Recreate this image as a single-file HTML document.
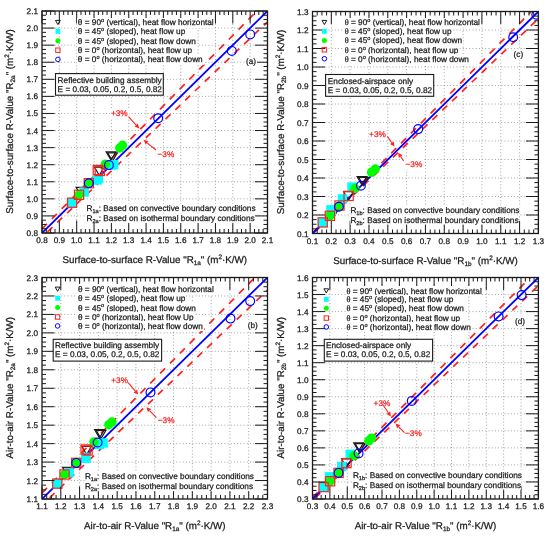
<!DOCTYPE html>
<html><head><meta charset="utf-8"><title>R-Value comparison</title>
<style>html,body{margin:0;padding:0;background:#fff;width:550px;height:539px;overflow:hidden}
svg{display:block;font-family:'Liberation Sans', Arial, sans-serif} text{stroke-width:0.25px} svg{text-rendering:geometricPrecision}</style></head>
<body><svg width="550" height="539" viewBox="0 0 550 539">
<defs><filter id="wbg" x="0" y="0" width="1" height="1" color-interpolation-filters="sRGB"><feFlood flood-color="#fff"/><feComposite in="SourceGraphic" operator="over"/></filter></defs>
<rect width="550" height="539" fill="#fff"/>
<path d="M59.35 11V233M42 215.92H267.5M76.69 11V233M42 198.85H267.5M94.04 11V233M42 181.77H267.5M111.38 11V233M42 164.69H267.5M128.73 11V233M42 147.62H267.5M146.08 11V233M42 130.54H267.5M163.42 11V233M42 113.46H267.5M180.77 11V233M42 96.38H267.5M198.12 11V233M42 79.31H267.5M215.46 11V233M42 62.23H267.5M232.81 11V233M42 45.15H267.5M250.15 11V233M42 28.08H267.5" stroke="#8c8c8c" stroke-width="0.8" stroke-dasharray="1 2.2" fill="none"/>
<g font-size="8.2" fill="#1a1a1a" stroke="#1a1a1a"><text x="42.00" y="243.40" text-anchor="middle">0.8</text><text x="38.00" y="236.00" text-anchor="end">0.8</text><text x="59.35" y="243.40" text-anchor="middle">0.9</text><text x="38.00" y="218.92" text-anchor="end">0.9</text><text x="76.69" y="243.40" text-anchor="middle">1.0</text><text x="38.00" y="201.85" text-anchor="end">1.0</text><text x="94.04" y="243.40" text-anchor="middle">1.1</text><text x="38.00" y="184.77" text-anchor="end">1.1</text><text x="111.38" y="243.40" text-anchor="middle">1.2</text><text x="38.00" y="167.69" text-anchor="end">1.2</text><text x="128.73" y="243.40" text-anchor="middle">1.3</text><text x="38.00" y="150.62" text-anchor="end">1.3</text><text x="146.08" y="243.40" text-anchor="middle">1.4</text><text x="38.00" y="133.54" text-anchor="end">1.4</text><text x="163.42" y="243.40" text-anchor="middle">1.5</text><text x="38.00" y="116.46" text-anchor="end">1.5</text><text x="180.77" y="243.40" text-anchor="middle">1.6</text><text x="38.00" y="99.38" text-anchor="end">1.6</text><text x="198.12" y="243.40" text-anchor="middle">1.7</text><text x="38.00" y="82.31" text-anchor="end">1.7</text><text x="215.46" y="243.40" text-anchor="middle">1.8</text><text x="38.00" y="65.23" text-anchor="end">1.8</text><text x="232.81" y="243.40" text-anchor="middle">1.9</text><text x="38.00" y="48.15" text-anchor="end">1.9</text><text x="250.15" y="243.40" text-anchor="middle">2.0</text><text x="38.00" y="31.08" text-anchor="end">2.0</text><text x="267.50" y="243.40" text-anchor="middle">2.1</text><text x="38.00" y="14.00" text-anchor="end">2.1</text></g>
<text x="154.75" y="263.10" text-anchor="middle" font-size="9.8" fill="#1a1a1a" stroke="#1a1a1a">Surface-to-surface R-Value "R<tspan font-size="6.4" dy="2.2">1a</tspan><tspan dy="-2.2">" (m</tspan><tspan font-size="6.4" dy="-4">2</tspan><tspan dy="4">·K/W)</tspan></text>
<text transform="translate(13.20 121.40) rotate(-90)" text-anchor="middle" font-size="9.8" fill="#1a1a1a" stroke="#1a1a1a">Surface-to-surface R-Value "R<tspan font-size="6.4" dy="2.2">2a</tspan><tspan dy="-2.2">" (m</tspan><tspan font-size="6.4" dy="-4">2</tspan><tspan dy="4">·K/W)</tspan></text>
<path d="M331.32 11.5V233.5M312.5 215.00H538.4M350.15 11.5V233.5M312.5 196.50H538.4M368.98 11.5V233.5M312.5 178.00H538.4M387.80 11.5V233.5M312.5 159.50H538.4M406.62 11.5V233.5M312.5 141.00H538.4M425.45 11.5V233.5M312.5 122.50H538.4M444.27 11.5V233.5M312.5 104.00H538.4M463.10 11.5V233.5M312.5 85.50H538.4M481.92 11.5V233.5M312.5 67.00H538.4M500.75 11.5V233.5M312.5 48.50H538.4M519.58 11.5V233.5M312.5 30.00H538.4" stroke="#8c8c8c" stroke-width="0.8" stroke-dasharray="1 2.2" fill="none"/>
<g font-size="8.2" fill="#1a1a1a" stroke="#1a1a1a"><text x="312.50" y="243.90" text-anchor="middle">0.1</text><text x="308.50" y="236.50" text-anchor="end">0.1</text><text x="331.32" y="243.90" text-anchor="middle">0.2</text><text x="308.50" y="218.00" text-anchor="end">0.2</text><text x="350.15" y="243.90" text-anchor="middle">0.3</text><text x="308.50" y="199.50" text-anchor="end">0.3</text><text x="368.98" y="243.90" text-anchor="middle">0.4</text><text x="308.50" y="181.00" text-anchor="end">0.4</text><text x="387.80" y="243.90" text-anchor="middle">0.5</text><text x="308.50" y="162.50" text-anchor="end">0.5</text><text x="406.62" y="243.90" text-anchor="middle">0.6</text><text x="308.50" y="144.00" text-anchor="end">0.6</text><text x="425.45" y="243.90" text-anchor="middle">0.7</text><text x="308.50" y="125.50" text-anchor="end">0.7</text><text x="444.27" y="243.90" text-anchor="middle">0.8</text><text x="308.50" y="107.00" text-anchor="end">0.8</text><text x="463.10" y="243.90" text-anchor="middle">0.9</text><text x="308.50" y="88.50" text-anchor="end">0.9</text><text x="481.92" y="243.90" text-anchor="middle">1.0</text><text x="308.50" y="70.00" text-anchor="end">1.0</text><text x="500.75" y="243.90" text-anchor="middle">1.1</text><text x="308.50" y="51.50" text-anchor="end">1.1</text><text x="519.58" y="243.90" text-anchor="middle">1.2</text><text x="308.50" y="33.00" text-anchor="end">1.2</text><text x="538.40" y="243.90" text-anchor="middle">1.3</text><text x="308.50" y="14.50" text-anchor="end">1.3</text></g>
<text x="425.45" y="263.60" text-anchor="middle" font-size="9.8" fill="#1a1a1a" stroke="#1a1a1a">Surface-to-surface R-Value "R<tspan font-size="6.4" dy="2.2">1b</tspan><tspan dy="-2.2">" (m</tspan><tspan font-size="6.4" dy="-4">2</tspan><tspan dy="4">·K/W)</tspan></text>
<text transform="translate(283.70 121.90) rotate(-90)" text-anchor="middle" font-size="9.8" fill="#1a1a1a" stroke="#1a1a1a">Surface-to-surface R-Value "R<tspan font-size="6.4" dy="2.2">2b</tspan><tspan dy="-2.2">" (m</tspan><tspan font-size="6.4" dy="-4">2</tspan><tspan dy="4">·K/W)</tspan></text>
<path d="M60.79 277.5V499M42 480.54H267.5M79.58 277.5V499M42 462.08H267.5M98.38 277.5V499M42 443.62H267.5M117.17 277.5V499M42 425.17H267.5M135.96 277.5V499M42 406.71H267.5M154.75 277.5V499M42 388.25H267.5M173.54 277.5V499M42 369.79H267.5M192.33 277.5V499M42 351.33H267.5M211.13 277.5V499M42 332.88H267.5M229.92 277.5V499M42 314.42H267.5M248.71 277.5V499M42 295.96H267.5" stroke="#8c8c8c" stroke-width="0.8" stroke-dasharray="1 2.2" fill="none"/>
<g font-size="8.2" fill="#1a1a1a" stroke="#1a1a1a"><text x="42.00" y="509.40" text-anchor="middle">1.1</text><text x="38.00" y="502.00" text-anchor="end">1.1</text><text x="60.79" y="509.40" text-anchor="middle">1.2</text><text x="38.00" y="483.54" text-anchor="end">1.2</text><text x="79.58" y="509.40" text-anchor="middle">1.3</text><text x="38.00" y="465.08" text-anchor="end">1.3</text><text x="98.38" y="509.40" text-anchor="middle">1.4</text><text x="38.00" y="446.62" text-anchor="end">1.4</text><text x="117.17" y="509.40" text-anchor="middle">1.5</text><text x="38.00" y="428.17" text-anchor="end">1.5</text><text x="135.96" y="509.40" text-anchor="middle">1.6</text><text x="38.00" y="409.71" text-anchor="end">1.6</text><text x="154.75" y="509.40" text-anchor="middle">1.7</text><text x="38.00" y="391.25" text-anchor="end">1.7</text><text x="173.54" y="509.40" text-anchor="middle">1.8</text><text x="38.00" y="372.79" text-anchor="end">1.8</text><text x="192.33" y="509.40" text-anchor="middle">1.9</text><text x="38.00" y="354.33" text-anchor="end">1.9</text><text x="211.13" y="509.40" text-anchor="middle">2.0</text><text x="38.00" y="335.88" text-anchor="end">2.0</text><text x="229.92" y="509.40" text-anchor="middle">2.1</text><text x="38.00" y="317.42" text-anchor="end">2.1</text><text x="248.71" y="509.40" text-anchor="middle">2.2</text><text x="38.00" y="298.96" text-anchor="end">2.2</text><text x="267.50" y="509.40" text-anchor="middle">2.3</text><text x="38.00" y="280.50" text-anchor="end">2.3</text></g>
<text x="154.75" y="529.10" text-anchor="middle" font-size="9.8" fill="#1a1a1a" stroke="#1a1a1a">Air-to-air R-Value "R<tspan font-size="6.4" dy="2.2">1a</tspan><tspan dy="-2.2">" (m</tspan><tspan font-size="6.4" dy="-4">2</tspan><tspan dy="4">·K/W)</tspan></text>
<text transform="translate(13.20 387.65) rotate(-90)" text-anchor="middle" font-size="9.8" fill="#1a1a1a" stroke="#1a1a1a">Air-to-air R-Value "R<tspan font-size="6.4" dy="2.2">2a</tspan><tspan dy="-2.2">" (m</tspan><tspan font-size="6.4" dy="-4">2</tspan><tspan dy="4">·K/W)</tspan></text>
<path d="M329.88 277.5V499M312.5 481.96H538.4M347.25 277.5V499M312.5 464.92H538.4M364.63 277.5V499M312.5 447.88H538.4M382.01 277.5V499M312.5 430.85H538.4M399.38 277.5V499M312.5 413.81H538.4M416.76 277.5V499M312.5 396.77H538.4M434.14 277.5V499M312.5 379.73H538.4M451.52 277.5V499M312.5 362.69H538.4M468.89 277.5V499M312.5 345.65H538.4M486.27 277.5V499M312.5 328.62H538.4M503.65 277.5V499M312.5 311.58H538.4M521.02 277.5V499M312.5 294.54H538.4" stroke="#8c8c8c" stroke-width="0.8" stroke-dasharray="1 2.2" fill="none"/>
<g font-size="8.2" fill="#1a1a1a" stroke="#1a1a1a"><text x="312.50" y="509.40" text-anchor="middle">0.3</text><text x="308.50" y="502.00" text-anchor="end">0.3</text><text x="329.88" y="509.40" text-anchor="middle">0.4</text><text x="308.50" y="484.96" text-anchor="end">0.4</text><text x="347.25" y="509.40" text-anchor="middle">0.5</text><text x="308.50" y="467.92" text-anchor="end">0.5</text><text x="364.63" y="509.40" text-anchor="middle">0.6</text><text x="308.50" y="450.88" text-anchor="end">0.6</text><text x="382.01" y="509.40" text-anchor="middle">0.7</text><text x="308.50" y="433.85" text-anchor="end">0.7</text><text x="399.38" y="509.40" text-anchor="middle">0.8</text><text x="308.50" y="416.81" text-anchor="end">0.8</text><text x="416.76" y="509.40" text-anchor="middle">0.9</text><text x="308.50" y="399.77" text-anchor="end">0.9</text><text x="434.14" y="509.40" text-anchor="middle">1.0</text><text x="308.50" y="382.73" text-anchor="end">1.0</text><text x="451.52" y="509.40" text-anchor="middle">1.1</text><text x="308.50" y="365.69" text-anchor="end">1.1</text><text x="468.89" y="509.40" text-anchor="middle">1.2</text><text x="308.50" y="348.65" text-anchor="end">1.2</text><text x="486.27" y="509.40" text-anchor="middle">1.3</text><text x="308.50" y="331.62" text-anchor="end">1.3</text><text x="503.65" y="509.40" text-anchor="middle">1.4</text><text x="308.50" y="314.58" text-anchor="end">1.4</text><text x="521.02" y="509.40" text-anchor="middle">1.5</text><text x="308.50" y="297.54" text-anchor="end">1.5</text><text x="538.40" y="509.40" text-anchor="middle">1.6</text><text x="308.50" y="280.50" text-anchor="end">1.6</text></g>
<text x="425.45" y="529.10" text-anchor="middle" font-size="9.8" fill="#1a1a1a" stroke="#1a1a1a">Air-to-air R-Value "R<tspan font-size="6.4" dy="2.2">1b</tspan><tspan dy="-2.2">" (m</tspan><tspan font-size="6.4" dy="-4">2</tspan><tspan dy="4">·K/W)</tspan></text>
<text transform="translate(283.70 387.65) rotate(-90)" text-anchor="middle" font-size="9.8" fill="#1a1a1a" stroke="#1a1a1a">Air-to-air R-Value "R<tspan font-size="6.4" dy="2.2">2b</tspan><tspan dy="-2.2">" (m</tspan><tspan font-size="6.4" dy="-4">2</tspan><tspan dy="4">·K/W)</tspan></text>
<clipPath id="clipa"><rect x="42" y="11" width="225.50" height="222.00"/></clipPath>
<g clip-path="url(#clipa)">
<line x1="42.00" y1="228.90" x2="256.89" y2="11.00" stroke="#ff2020" stroke-width="1.7" stroke-dasharray="7.2 6.8" stroke-dashoffset="0"/>
<line x1="46.29" y1="233.00" x2="267.50" y2="21.76" stroke="#ff2020" stroke-width="1.7" stroke-dasharray="6.9 6.7" stroke-dashoffset="-1.6"/>
<line x1="42.00" y1="233.00" x2="267.50" y2="11.00" stroke="#0000ff" stroke-width="1.8"/>
</g>
<clipPath id="clipc"><rect x="312.5" y="11.5" width="225.90" height="222.00"/></clipPath>
<g clip-path="url(#clipc)">
<line x1="312.50" y1="232.94" x2="531.27" y2="11.50" stroke="#ff2020" stroke-width="1.7" stroke-dasharray="7.2 6.8" stroke-dashoffset="0"/>
<line x1="313.08" y1="233.50" x2="538.40" y2="18.72" stroke="#ff2020" stroke-width="1.7" stroke-dasharray="6.9 6.7" stroke-dashoffset="-1.6"/>
<line x1="312.50" y1="233.50" x2="538.40" y2="11.50" stroke="#0000ff" stroke-width="1.8"/>
</g>
<clipPath id="clipb"><rect x="42" y="277.5" width="225.50" height="221.50"/></clipPath>
<g clip-path="url(#clipb)">
<line x1="42.00" y1="492.91" x2="254.91" y2="277.50" stroke="#ff2020" stroke-width="1.7" stroke-dasharray="7.2 6.8" stroke-dashoffset="0"/>
<line x1="48.39" y1="499.00" x2="267.50" y2="290.24" stroke="#ff2020" stroke-width="1.7" stroke-dasharray="6.9 6.7" stroke-dashoffset="-1.6"/>
<line x1="42.00" y1="499.00" x2="267.50" y2="277.50" stroke="#0000ff" stroke-width="1.8"/>
</g>
<clipPath id="clipd"><rect x="312.5" y="277.5" width="225.90" height="221.50"/></clipPath>
<g clip-path="url(#clipd)">
<line x1="312.50" y1="497.47" x2="530.30" y2="277.50" stroke="#ff2020" stroke-width="1.7" stroke-dasharray="7.2 6.8" stroke-dashoffset="0"/>
<line x1="314.11" y1="499.00" x2="538.40" y2="285.68" stroke="#ff2020" stroke-width="1.7" stroke-dasharray="6.9 6.7" stroke-dashoffset="-1.6"/>
<line x1="312.50" y1="499.00" x2="538.40" y2="277.50" stroke="#0000ff" stroke-width="1.8"/>
</g>
<g clip-path="url(#clipa)">
<path d="M76.10 187.34H85.90L81.00 195.66Z" fill="none" stroke="#1a1a1a" stroke-width="1.2"/>
<path d="M94.40 167.03H104.20L99.30 175.36Z" fill="none" stroke="#1a1a1a" stroke-width="1.2"/>
<path d="M106.10 151.84H115.90L111.00 160.16Z" fill="none" stroke="#1a1a1a" stroke-width="1.2"/>
<path d="M107.60 152.84H117.40L112.50 161.16Z" fill="none" stroke="#1a1a1a" stroke-width="1.2"/>
<rect x="67.40" y="198.00" width="9.4" height="9.4" fill="#00ffff"/>
<rect x="79.40" y="187.30" width="9.4" height="9.4" fill="#00ffff"/>
<rect x="92.40" y="175.30" width="9.4" height="9.4" fill="#00ffff"/>
<rect x="93.60" y="173.90" width="9.4" height="9.4" fill="#00ffff"/>
<rect x="109.00" y="160.00" width="9.4" height="9.4" fill="#00ffff"/>
<rect x="106.30" y="160.30" width="9.4" height="9.4" fill="#00ffff"/>
<circle cx="79.00" cy="194.80" r="4.7" fill="#00ff00"/>
<circle cx="88.80" cy="183.20" r="4.7" fill="#00ff00"/>
<circle cx="105.30" cy="164.20" r="4.7" fill="#00ff00"/>
<circle cx="119.70" cy="148.00" r="4.7" fill="#00ff00"/>
<circle cx="122.50" cy="145.20" r="4.7" fill="#00ff00"/>
<rect x="67.50" y="198.10" width="9.2" height="9.2" fill="none" stroke="#ff2020" stroke-width="1.2"/>
<rect x="74.40" y="190.20" width="9.2" height="9.2" fill="none" stroke="#ff2020" stroke-width="1.2"/>
<rect x="84.20" y="178.60" width="9.2" height="9.2" fill="none" stroke="#ff2020" stroke-width="1.2"/>
<rect x="93.20" y="165.40" width="9.2" height="9.2" fill="none" stroke="#ff2020" stroke-width="1.2"/>
<rect x="95.20" y="166.40" width="9.2" height="9.2" fill="none" stroke="#ff2020" stroke-width="1.2"/>
<circle cx="88.80" cy="183.20" r="4.4" fill="none" stroke="#0000ff" stroke-width="1.2"/>
<circle cx="109.00" cy="165.10" r="4.4" fill="none" stroke="#0000ff" stroke-width="1.2"/>
<circle cx="158.20" cy="118.20" r="4.4" fill="none" stroke="#0000ff" stroke-width="1.2"/>
<circle cx="231.80" cy="50.90" r="4.4" fill="none" stroke="#0000ff" stroke-width="1.2"/>
<circle cx="250.20" cy="34.40" r="4.4" fill="none" stroke="#0000ff" stroke-width="1.2"/>
</g>
<g clip-path="url(#clipb)">
<path d="M62.50 467.33H72.30L67.40 475.67Z" fill="none" stroke="#1a1a1a" stroke-width="1.2"/>
<path d="M81.70 446.33H91.50L86.60 454.67Z" fill="none" stroke="#1a1a1a" stroke-width="1.2"/>
<path d="M94.60 429.63H104.40L99.50 437.97Z" fill="none" stroke="#1a1a1a" stroke-width="1.2"/>
<path d="M96.10 430.33H105.90L101.00 438.67Z" fill="none" stroke="#1a1a1a" stroke-width="1.2"/>
<rect x="52.60" y="478.90" width="9.4" height="9.4" fill="#00ffff"/>
<rect x="64.30" y="467.90" width="9.4" height="9.4" fill="#00ffff"/>
<rect x="81.20" y="453.60" width="9.4" height="9.4" fill="#00ffff"/>
<rect x="80.90" y="452.60" width="9.4" height="9.4" fill="#00ffff"/>
<rect x="98.50" y="438.30" width="9.4" height="9.4" fill="#00ffff"/>
<rect x="94.80" y="439.80" width="9.4" height="9.4" fill="#00ffff"/>
<circle cx="64.50" cy="474.50" r="4.7" fill="#00ff00"/>
<circle cx="76.20" cy="462.90" r="4.7" fill="#00ff00"/>
<circle cx="93.90" cy="442.00" r="4.7" fill="#00ff00"/>
<circle cx="108.80" cy="424.80" r="4.7" fill="#00ff00"/>
<circle cx="112.00" cy="422.00" r="4.7" fill="#00ff00"/>
<rect x="52.70" y="479.00" width="9.2" height="9.2" fill="none" stroke="#ff2020" stroke-width="1.2"/>
<rect x="59.90" y="469.90" width="9.2" height="9.2" fill="none" stroke="#ff2020" stroke-width="1.2"/>
<rect x="71.60" y="458.30" width="9.2" height="9.2" fill="none" stroke="#ff2020" stroke-width="1.2"/>
<rect x="81.00" y="444.90" width="9.2" height="9.2" fill="none" stroke="#ff2020" stroke-width="1.2"/>
<rect x="83.00" y="445.90" width="9.2" height="9.2" fill="none" stroke="#ff2020" stroke-width="1.2"/>
<circle cx="76.20" cy="462.90" r="4.4" fill="none" stroke="#0000ff" stroke-width="1.2"/>
<circle cx="97.60" cy="442.50" r="4.4" fill="none" stroke="#0000ff" stroke-width="1.2"/>
<circle cx="150.50" cy="392.40" r="4.4" fill="none" stroke="#0000ff" stroke-width="1.2"/>
<circle cx="230.50" cy="318.60" r="4.4" fill="none" stroke="#0000ff" stroke-width="1.2"/>
<circle cx="250.20" cy="301.10" r="4.4" fill="none" stroke="#0000ff" stroke-width="1.2"/>
</g>
<g clip-path="url(#clipc)">
<path d="M330.10 206.84H339.90L335.00 215.16Z" fill="none" stroke="#1a1a1a" stroke-width="1.2"/>
<path d="M343.70 191.74H353.50L348.60 200.06Z" fill="none" stroke="#1a1a1a" stroke-width="1.2"/>
<path d="M357.10 176.64H366.90L362.00 184.97Z" fill="none" stroke="#1a1a1a" stroke-width="1.2"/>
<path d="M358.60 177.34H368.40L363.50 185.66Z" fill="none" stroke="#1a1a1a" stroke-width="1.2"/>
<rect x="326.80" y="206.00" width="9.4" height="9.4" fill="#00ffff"/>
<rect x="318.00" y="217.70" width="9.4" height="9.4" fill="#00ffff"/>
<rect x="326.30" y="205.10" width="9.4" height="9.4" fill="#00ffff"/>
<rect x="337.80" y="194.20" width="9.4" height="9.4" fill="#00ffff"/>
<rect x="347.30" y="182.30" width="9.4" height="9.4" fill="#00ffff"/>
<circle cx="329.90" cy="215.80" r="4.7" fill="#00ff00"/>
<circle cx="338.90" cy="206.70" r="4.7" fill="#00ff00"/>
<circle cx="354.80" cy="188.50" r="4.7" fill="#00ff00"/>
<circle cx="371.50" cy="172.30" r="4.7" fill="#00ff00"/>
<circle cx="375.30" cy="169.00" r="4.7" fill="#00ff00"/>
<rect x="318.10" y="217.80" width="9.2" height="9.2" fill="none" stroke="#ff2020" stroke-width="1.2"/>
<rect x="325.30" y="211.20" width="9.2" height="9.2" fill="none" stroke="#ff2020" stroke-width="1.2"/>
<rect x="334.90" y="200.90" width="9.2" height="9.2" fill="none" stroke="#ff2020" stroke-width="1.2"/>
<rect x="344.00" y="191.30" width="9.2" height="9.2" fill="none" stroke="#ff2020" stroke-width="1.2"/>
<circle cx="338.90" cy="206.70" r="4.4" fill="none" stroke="#0000ff" stroke-width="1.2"/>
<circle cx="360.90" cy="185.70" r="4.4" fill="none" stroke="#0000ff" stroke-width="1.2"/>
<circle cx="418.20" cy="129.10" r="4.4" fill="none" stroke="#0000ff" stroke-width="1.2"/>
<circle cx="513.20" cy="37.30" r="4.4" fill="none" stroke="#0000ff" stroke-width="1.2"/>
<circle cx="536.30" cy="14.70" r="4.4" fill="none" stroke="#0000ff" stroke-width="1.2"/>
</g>
<g clip-path="url(#clipd)">
<path d="M341.60 458.94H351.40L346.50 467.27Z" fill="none" stroke="#1a1a1a" stroke-width="1.2"/>
<path d="M353.70 442.73H363.50L358.60 451.06Z" fill="none" stroke="#1a1a1a" stroke-width="1.2"/>
<path d="M355.10 443.63H364.90L360.00 451.97Z" fill="none" stroke="#1a1a1a" stroke-width="1.2"/>
<rect x="318.90" y="482.40" width="9.4" height="9.4" fill="#00ffff"/>
<rect x="324.80" y="472.10" width="9.4" height="9.4" fill="#00ffff"/>
<rect x="337.10" y="461.70" width="9.4" height="9.4" fill="#00ffff"/>
<rect x="345.50" y="449.60" width="9.4" height="9.4" fill="#00ffff"/>
<circle cx="330.10" cy="481.30" r="4.7" fill="#00ff00"/>
<circle cx="338.60" cy="472.90" r="4.7" fill="#00ff00"/>
<circle cx="353.90" cy="455.70" r="4.7" fill="#00ff00"/>
<circle cx="368.80" cy="440.90" r="4.7" fill="#00ff00"/>
<circle cx="371.50" cy="438.10" r="4.7" fill="#00ff00"/>
<rect x="319.00" y="482.50" width="9.2" height="9.2" fill="none" stroke="#ff2020" stroke-width="1.2"/>
<rect x="325.50" y="476.70" width="9.2" height="9.2" fill="none" stroke="#ff2020" stroke-width="1.2"/>
<rect x="334.00" y="468.30" width="9.2" height="9.2" fill="none" stroke="#ff2020" stroke-width="1.2"/>
<rect x="341.90" y="458.50" width="9.2" height="9.2" fill="none" stroke="#ff2020" stroke-width="1.2"/>
<circle cx="338.60" cy="472.90" r="4.4" fill="none" stroke="#0000ff" stroke-width="1.2"/>
<circle cx="358.60" cy="453.40" r="4.4" fill="none" stroke="#0000ff" stroke-width="1.2"/>
<circle cx="411.80" cy="400.90" r="4.4" fill="none" stroke="#0000ff" stroke-width="1.2"/>
<circle cx="498.60" cy="316.40" r="4.4" fill="none" stroke="#0000ff" stroke-width="1.2"/>
<circle cx="521.60" cy="295.10" r="4.4" fill="none" stroke="#0000ff" stroke-width="1.2"/>
</g>
<path d="M42.00 233v-12.5M42.00 11v12.5M42 233.00h12.5M267.5 233.00h-12.5M46.34 233v-4M46.34 11v4M42 228.73h4M267.5 228.73h-4M50.67 233v-4M50.67 11v4M42 224.46h4M267.5 224.46h-4M55.01 233v-4M55.01 11v4M42 220.19h4M267.5 220.19h-4M59.35 233v-12.5M59.35 11v12.5M42 215.92h12.5M267.5 215.92h-12.5M63.68 233v-4M63.68 11v4M42 211.65h4M267.5 211.65h-4M68.02 233v-4M68.02 11v4M42 207.38h4M267.5 207.38h-4M72.36 233v-4M72.36 11v4M42 203.12h4M267.5 203.12h-4M76.69 233v-12.5M76.69 11v12.5M42 198.85h12.5M267.5 198.85h-12.5M81.03 233v-4M81.03 11v4M42 194.58h4M267.5 194.58h-4M85.37 233v-4M85.37 11v4M42 190.31h4M267.5 190.31h-4M89.70 233v-4M89.70 11v4M42 186.04h4M267.5 186.04h-4M94.04 233v-12.5M94.04 11v12.5M42 181.77h12.5M267.5 181.77h-12.5M98.37 233v-4M98.37 11v4M42 177.50h4M267.5 177.50h-4M102.71 233v-4M102.71 11v4M42 173.23h4M267.5 173.23h-4M107.05 233v-4M107.05 11v4M42 168.96h4M267.5 168.96h-4M111.38 233v-12.5M111.38 11v12.5M42 164.69h12.5M267.5 164.69h-12.5M115.72 233v-4M115.72 11v4M42 160.42h4M267.5 160.42h-4M120.06 233v-4M120.06 11v4M42 156.15h4M267.5 156.15h-4M124.39 233v-4M124.39 11v4M42 151.88h4M267.5 151.88h-4M128.73 233v-12.5M128.73 11v12.5M42 147.62h12.5M267.5 147.62h-12.5M133.07 233v-4M133.07 11v4M42 143.35h4M267.5 143.35h-4M137.40 233v-4M137.40 11v4M42 139.08h4M267.5 139.08h-4M141.74 233v-4M141.74 11v4M42 134.81h4M267.5 134.81h-4M146.08 233v-12.5M146.08 11v12.5M42 130.54h12.5M267.5 130.54h-12.5M150.41 233v-4M150.41 11v4M42 126.27h4M267.5 126.27h-4M154.75 233v-4M154.75 11v4M42 122.00h4M267.5 122.00h-4M159.09 233v-4M159.09 11v4M42 117.73h4M267.5 117.73h-4M163.42 233v-12.5M163.42 11v12.5M42 113.46h12.5M267.5 113.46h-12.5M167.76 233v-4M167.76 11v4M42 109.19h4M267.5 109.19h-4M172.10 233v-4M172.10 11v4M42 104.92h4M267.5 104.92h-4M176.43 233v-4M176.43 11v4M42 100.65h4M267.5 100.65h-4M180.77 233v-12.5M180.77 11v12.5M42 96.38h12.5M267.5 96.38h-12.5M185.11 233v-4M185.11 11v4M42 92.12h4M267.5 92.12h-4M189.44 233v-4M189.44 11v4M42 87.85h4M267.5 87.85h-4M193.78 233v-4M193.78 11v4M42 83.58h4M267.5 83.58h-4M198.12 233v-12.5M198.12 11v12.5M42 79.31h12.5M267.5 79.31h-12.5M202.45 233v-4M202.45 11v4M42 75.04h4M267.5 75.04h-4M206.79 233v-4M206.79 11v4M42 70.77h4M267.5 70.77h-4M211.12 233v-4M211.12 11v4M42 66.50h4M267.5 66.50h-4M215.46 233v-12.5M215.46 11v12.5M42 62.23h12.5M267.5 62.23h-12.5M219.80 233v-4M219.80 11v4M42 57.96h4M267.5 57.96h-4M224.13 233v-4M224.13 11v4M42 53.69h4M267.5 53.69h-4M228.47 233v-4M228.47 11v4M42 49.42h4M267.5 49.42h-4M232.81 233v-12.5M232.81 11v12.5M42 45.15h12.5M267.5 45.15h-12.5M237.14 233v-4M237.14 11v4M42 40.88h4M267.5 40.88h-4M241.48 233v-4M241.48 11v4M42 36.62h4M267.5 36.62h-4M245.82 233v-4M245.82 11v4M42 32.35h4M267.5 32.35h-4M250.15 233v-12.5M250.15 11v12.5M42 28.08h12.5M267.5 28.08h-12.5M254.49 233v-4M254.49 11v4M42 23.81h4M267.5 23.81h-4M258.83 233v-4M258.83 11v4M42 19.54h4M267.5 19.54h-4M263.16 233v-4M263.16 11v4M42 15.27h4M267.5 15.27h-4M267.50 233v-12.5M267.50 11v12.5M42 11.00h12.5M267.5 11.00h-12.5" stroke="#1a1a1a" stroke-width="1" fill="none"/>
<rect x="42" y="11" width="225.50" height="222.00" fill="none" stroke="#1a1a1a" stroke-width="1.3"/>
<path d="M312.50 233.5v-12.5M312.50 11.5v12.5M312.5 233.50h12.5M538.4 233.50h-12.5M317.21 233.5v-4M317.21 11.5v4M312.5 228.88h4M538.4 228.88h-4M321.91 233.5v-4M321.91 11.5v4M312.5 224.25h4M538.4 224.25h-4M326.62 233.5v-4M326.62 11.5v4M312.5 219.62h4M538.4 219.62h-4M331.32 233.5v-12.5M331.32 11.5v12.5M312.5 215.00h12.5M538.4 215.00h-12.5M336.03 233.5v-4M336.03 11.5v4M312.5 210.38h4M538.4 210.38h-4M340.74 233.5v-4M340.74 11.5v4M312.5 205.75h4M538.4 205.75h-4M345.44 233.5v-4M345.44 11.5v4M312.5 201.12h4M538.4 201.12h-4M350.15 233.5v-12.5M350.15 11.5v12.5M312.5 196.50h12.5M538.4 196.50h-12.5M354.86 233.5v-4M354.86 11.5v4M312.5 191.88h4M538.4 191.88h-4M359.56 233.5v-4M359.56 11.5v4M312.5 187.25h4M538.4 187.25h-4M364.27 233.5v-4M364.27 11.5v4M312.5 182.62h4M538.4 182.62h-4M368.98 233.5v-12.5M368.98 11.5v12.5M312.5 178.00h12.5M538.4 178.00h-12.5M373.68 233.5v-4M373.68 11.5v4M312.5 173.37h4M538.4 173.37h-4M378.39 233.5v-4M378.39 11.5v4M312.5 168.75h4M538.4 168.75h-4M383.09 233.5v-4M383.09 11.5v4M312.5 164.12h4M538.4 164.12h-4M387.80 233.5v-12.5M387.80 11.5v12.5M312.5 159.50h12.5M538.4 159.50h-12.5M392.51 233.5v-4M392.51 11.5v4M312.5 154.88h4M538.4 154.88h-4M397.21 233.5v-4M397.21 11.5v4M312.5 150.25h4M538.4 150.25h-4M401.92 233.5v-4M401.92 11.5v4M312.5 145.62h4M538.4 145.62h-4M406.62 233.5v-12.5M406.62 11.5v12.5M312.5 141.00h12.5M538.4 141.00h-12.5M411.33 233.5v-4M411.33 11.5v4M312.5 136.38h4M538.4 136.38h-4M416.04 233.5v-4M416.04 11.5v4M312.5 131.75h4M538.4 131.75h-4M420.74 233.5v-4M420.74 11.5v4M312.5 127.12h4M538.4 127.12h-4M425.45 233.5v-12.5M425.45 11.5v12.5M312.5 122.50h12.5M538.4 122.50h-12.5M430.16 233.5v-4M430.16 11.5v4M312.5 117.87h4M538.4 117.87h-4M434.86 233.5v-4M434.86 11.5v4M312.5 113.25h4M538.4 113.25h-4M439.57 233.5v-4M439.57 11.5v4M312.5 108.62h4M538.4 108.62h-4M444.27 233.5v-12.5M444.27 11.5v12.5M312.5 104.00h12.5M538.4 104.00h-12.5M448.98 233.5v-4M448.98 11.5v4M312.5 99.37h4M538.4 99.37h-4M453.69 233.5v-4M453.69 11.5v4M312.5 94.75h4M538.4 94.75h-4M458.39 233.5v-4M458.39 11.5v4M312.5 90.12h4M538.4 90.12h-4M463.10 233.5v-12.5M463.10 11.5v12.5M312.5 85.50h12.5M538.4 85.50h-12.5M467.81 233.5v-4M467.81 11.5v4M312.5 80.87h4M538.4 80.87h-4M472.51 233.5v-4M472.51 11.5v4M312.5 76.25h4M538.4 76.25h-4M477.22 233.5v-4M477.22 11.5v4M312.5 71.62h4M538.4 71.62h-4M481.92 233.5v-12.5M481.92 11.5v12.5M312.5 67.00h12.5M538.4 67.00h-12.5M486.63 233.5v-4M486.63 11.5v4M312.5 62.37h4M538.4 62.37h-4M491.34 233.5v-4M491.34 11.5v4M312.5 57.75h4M538.4 57.75h-4M496.04 233.5v-4M496.04 11.5v4M312.5 53.12h4M538.4 53.12h-4M500.75 233.5v-12.5M500.75 11.5v12.5M312.5 48.50h12.5M538.4 48.50h-12.5M505.46 233.5v-4M505.46 11.5v4M312.5 43.87h4M538.4 43.87h-4M510.16 233.5v-4M510.16 11.5v4M312.5 39.25h4M538.4 39.25h-4M514.87 233.5v-4M514.87 11.5v4M312.5 34.62h4M538.4 34.62h-4M519.58 233.5v-12.5M519.58 11.5v12.5M312.5 30.00h12.5M538.4 30.00h-12.5M524.28 233.5v-4M524.28 11.5v4M312.5 25.38h4M538.4 25.38h-4M528.99 233.5v-4M528.99 11.5v4M312.5 20.75h4M538.4 20.75h-4M533.69 233.5v-4M533.69 11.5v4M312.5 16.12h4M538.4 16.12h-4M538.40 233.5v-12.5M538.40 11.5v12.5M312.5 11.50h12.5M538.4 11.50h-12.5" stroke="#1a1a1a" stroke-width="1" fill="none"/>
<rect x="312.5" y="11.5" width="225.90" height="222.00" fill="none" stroke="#1a1a1a" stroke-width="1.3"/>
<path d="M42.00 499v-12.5M42.00 277.5v12.5M42 499.00h12.5M267.5 499.00h-12.5M46.70 499v-4M46.70 277.5v4M42 494.39h4M267.5 494.39h-4M51.40 499v-4M51.40 277.5v4M42 489.77h4M267.5 489.77h-4M56.09 499v-4M56.09 277.5v4M42 485.16h4M267.5 485.16h-4M60.79 499v-12.5M60.79 277.5v12.5M42 480.54h12.5M267.5 480.54h-12.5M65.49 499v-4M65.49 277.5v4M42 475.93h4M267.5 475.93h-4M70.19 499v-4M70.19 277.5v4M42 471.31h4M267.5 471.31h-4M74.89 499v-4M74.89 277.5v4M42 466.70h4M267.5 466.70h-4M79.58 499v-12.5M79.58 277.5v12.5M42 462.08h12.5M267.5 462.08h-12.5M84.28 499v-4M84.28 277.5v4M42 457.47h4M267.5 457.47h-4M88.98 499v-4M88.98 277.5v4M42 452.85h4M267.5 452.85h-4M93.68 499v-4M93.68 277.5v4M42 448.24h4M267.5 448.24h-4M98.38 499v-12.5M98.38 277.5v12.5M42 443.62h12.5M267.5 443.62h-12.5M103.07 499v-4M103.07 277.5v4M42 439.01h4M267.5 439.01h-4M107.77 499v-4M107.77 277.5v4M42 434.40h4M267.5 434.40h-4M112.47 499v-4M112.47 277.5v4M42 429.78h4M267.5 429.78h-4M117.17 499v-12.5M117.17 277.5v12.5M42 425.17h12.5M267.5 425.17h-12.5M121.86 499v-4M121.86 277.5v4M42 420.55h4M267.5 420.55h-4M126.56 499v-4M126.56 277.5v4M42 415.94h4M267.5 415.94h-4M131.26 499v-4M131.26 277.5v4M42 411.32h4M267.5 411.32h-4M135.96 499v-12.5M135.96 277.5v12.5M42 406.71h12.5M267.5 406.71h-12.5M140.66 499v-4M140.66 277.5v4M42 402.09h4M267.5 402.09h-4M145.35 499v-4M145.35 277.5v4M42 397.48h4M267.5 397.48h-4M150.05 499v-4M150.05 277.5v4M42 392.86h4M267.5 392.86h-4M154.75 499v-12.5M154.75 277.5v12.5M42 388.25h12.5M267.5 388.25h-12.5M159.45 499v-4M159.45 277.5v4M42 383.64h4M267.5 383.64h-4M164.15 499v-4M164.15 277.5v4M42 379.02h4M267.5 379.02h-4M168.84 499v-4M168.84 277.5v4M42 374.41h4M267.5 374.41h-4M173.54 499v-12.5M173.54 277.5v12.5M42 369.79h12.5M267.5 369.79h-12.5M178.24 499v-4M178.24 277.5v4M42 365.18h4M267.5 365.18h-4M182.94 499v-4M182.94 277.5v4M42 360.56h4M267.5 360.56h-4M187.64 499v-4M187.64 277.5v4M42 355.95h4M267.5 355.95h-4M192.33 499v-12.5M192.33 277.5v12.5M42 351.33h12.5M267.5 351.33h-12.5M197.03 499v-4M197.03 277.5v4M42 346.72h4M267.5 346.72h-4M201.73 499v-4M201.73 277.5v4M42 342.10h4M267.5 342.10h-4M206.43 499v-4M206.43 277.5v4M42 337.49h4M267.5 337.49h-4M211.13 499v-12.5M211.13 277.5v12.5M42 332.88h12.5M267.5 332.88h-12.5M215.82 499v-4M215.82 277.5v4M42 328.26h4M267.5 328.26h-4M220.52 499v-4M220.52 277.5v4M42 323.65h4M267.5 323.65h-4M225.22 499v-4M225.22 277.5v4M42 319.03h4M267.5 319.03h-4M229.92 499v-12.5M229.92 277.5v12.5M42 314.42h12.5M267.5 314.42h-12.5M234.61 499v-4M234.61 277.5v4M42 309.80h4M267.5 309.80h-4M239.31 499v-4M239.31 277.5v4M42 305.19h4M267.5 305.19h-4M244.01 499v-4M244.01 277.5v4M42 300.57h4M267.5 300.57h-4M248.71 499v-12.5M248.71 277.5v12.5M42 295.96h12.5M267.5 295.96h-12.5M253.41 499v-4M253.41 277.5v4M42 291.34h4M267.5 291.34h-4M258.10 499v-4M258.10 277.5v4M42 286.73h4M267.5 286.73h-4M262.80 499v-4M262.80 277.5v4M42 282.11h4M267.5 282.11h-4M267.50 499v-12.5M267.50 277.5v12.5M42 277.50h12.5M267.5 277.50h-12.5" stroke="#1a1a1a" stroke-width="1" fill="none"/>
<rect x="42" y="277.5" width="225.50" height="221.50" fill="none" stroke="#1a1a1a" stroke-width="1.3"/>
<path d="M312.50 499v-12.5M312.50 277.5v12.5M312.5 499.00h12.5M538.4 499.00h-12.5M316.84 499v-4M316.84 277.5v4M312.5 494.74h4M538.4 494.74h-4M321.19 499v-4M321.19 277.5v4M312.5 490.48h4M538.4 490.48h-4M325.53 499v-4M325.53 277.5v4M312.5 486.22h4M538.4 486.22h-4M329.88 499v-12.5M329.88 277.5v12.5M312.5 481.96h12.5M538.4 481.96h-12.5M334.22 499v-4M334.22 277.5v4M312.5 477.70h4M538.4 477.70h-4M338.57 499v-4M338.57 277.5v4M312.5 473.44h4M538.4 473.44h-4M342.91 499v-4M342.91 277.5v4M312.5 469.18h4M538.4 469.18h-4M347.25 499v-12.5M347.25 277.5v12.5M312.5 464.92h12.5M538.4 464.92h-12.5M351.60 499v-4M351.60 277.5v4M312.5 460.66h4M538.4 460.66h-4M355.94 499v-4M355.94 277.5v4M312.5 456.40h4M538.4 456.40h-4M360.29 499v-4M360.29 277.5v4M312.5 452.14h4M538.4 452.14h-4M364.63 499v-12.5M364.63 277.5v12.5M312.5 447.88h12.5M538.4 447.88h-12.5M368.98 499v-4M368.98 277.5v4M312.5 443.62h4M538.4 443.62h-4M373.32 499v-4M373.32 277.5v4M312.5 439.37h4M538.4 439.37h-4M377.66 499v-4M377.66 277.5v4M312.5 435.11h4M538.4 435.11h-4M382.01 499v-12.5M382.01 277.5v12.5M312.5 430.85h12.5M538.4 430.85h-12.5M386.35 499v-4M386.35 277.5v4M312.5 426.59h4M538.4 426.59h-4M390.70 499v-4M390.70 277.5v4M312.5 422.33h4M538.4 422.33h-4M395.04 499v-4M395.04 277.5v4M312.5 418.07h4M538.4 418.07h-4M399.38 499v-12.5M399.38 277.5v12.5M312.5 413.81h12.5M538.4 413.81h-12.5M403.73 499v-4M403.73 277.5v4M312.5 409.55h4M538.4 409.55h-4M408.07 499v-4M408.07 277.5v4M312.5 405.29h4M538.4 405.29h-4M412.42 499v-4M412.42 277.5v4M312.5 401.03h4M538.4 401.03h-4M416.76 499v-12.5M416.76 277.5v12.5M312.5 396.77h12.5M538.4 396.77h-12.5M421.11 499v-4M421.11 277.5v4M312.5 392.51h4M538.4 392.51h-4M425.45 499v-4M425.45 277.5v4M312.5 388.25h4M538.4 388.25h-4M429.79 499v-4M429.79 277.5v4M312.5 383.99h4M538.4 383.99h-4M434.14 499v-12.5M434.14 277.5v12.5M312.5 379.73h12.5M538.4 379.73h-12.5M438.48 499v-4M438.48 277.5v4M312.5 375.47h4M538.4 375.47h-4M442.83 499v-4M442.83 277.5v4M312.5 371.21h4M538.4 371.21h-4M447.17 499v-4M447.17 277.5v4M312.5 366.95h4M538.4 366.95h-4M451.52 499v-12.5M451.52 277.5v12.5M312.5 362.69h12.5M538.4 362.69h-12.5M455.86 499v-4M455.86 277.5v4M312.5 358.43h4M538.4 358.43h-4M460.20 499v-4M460.20 277.5v4M312.5 354.17h4M538.4 354.17h-4M464.55 499v-4M464.55 277.5v4M312.5 349.91h4M538.4 349.91h-4M468.89 499v-12.5M468.89 277.5v12.5M312.5 345.65h12.5M538.4 345.65h-12.5M473.24 499v-4M473.24 277.5v4M312.5 341.39h4M538.4 341.39h-4M477.58 499v-4M477.58 277.5v4M312.5 337.13h4M538.4 337.13h-4M481.92 499v-4M481.92 277.5v4M312.5 332.88h4M538.4 332.88h-4M486.27 499v-12.5M486.27 277.5v12.5M312.5 328.62h12.5M538.4 328.62h-12.5M490.61 499v-4M490.61 277.5v4M312.5 324.36h4M538.4 324.36h-4M494.96 499v-4M494.96 277.5v4M312.5 320.10h4M538.4 320.10h-4M499.30 499v-4M499.30 277.5v4M312.5 315.84h4M538.4 315.84h-4M503.65 499v-12.5M503.65 277.5v12.5M312.5 311.58h12.5M538.4 311.58h-12.5M507.99 499v-4M507.99 277.5v4M312.5 307.32h4M538.4 307.32h-4M512.33 499v-4M512.33 277.5v4M312.5 303.06h4M538.4 303.06h-4M516.68 499v-4M516.68 277.5v4M312.5 298.80h4M538.4 298.80h-4M521.02 499v-12.5M521.02 277.5v12.5M312.5 294.54h12.5M538.4 294.54h-12.5M525.37 499v-4M525.37 277.5v4M312.5 290.28h4M538.4 290.28h-4M529.71 499v-4M529.71 277.5v4M312.5 286.02h4M538.4 286.02h-4M534.06 499v-4M534.06 277.5v4M312.5 281.76h4M538.4 281.76h-4M538.40 499v-12.5M538.40 277.5v12.5M312.5 277.50h12.5M538.4 277.50h-12.5" stroke="#1a1a1a" stroke-width="1" fill="none"/>
<rect x="312.5" y="277.5" width="225.90" height="221.50" fill="none" stroke="#1a1a1a" stroke-width="1.3"/>
<path d="M55.50 20.40H60.30L57.90 24.60Z" fill="none" stroke="#1a1a1a" stroke-width="1"/>
<rect x="55.50" y="29.00" width="4.8" height="4.8" fill="#00ffff"/>
<circle cx="57.90" cy="40.70" r="2.5" fill="#00ff00"/>
<rect x="55.70" y="48.00" width="4.4" height="4.4" fill="none" stroke="#ff2020" stroke-width="1"/>
<circle cx="57.90" cy="59.40" r="2.3" fill="none" stroke="#0000ff" stroke-width="1"/>
<text x="77.80" y="25.40" font-size="8.26" fill="#1a1a1a" stroke="#1a1a1a" filter="url(#wbg)">θ = 90<tspan font-size="5.6" dy="-3.2">o</tspan><tspan dy="3.2"> (vertical), heat flow horizontal</tspan></text>
<text x="77.80" y="34.40" font-size="8.26" fill="#1a1a1a" stroke="#1a1a1a" filter="url(#wbg)">θ = 45<tspan font-size="5.6" dy="-3.2">o</tspan><tspan dy="3.2"> (sloped), heat flow up</tspan></text>
<text x="77.80" y="43.70" font-size="8.26" fill="#1a1a1a" stroke="#1a1a1a" filter="url(#wbg)">θ = 45<tspan font-size="5.6" dy="-3.2">o</tspan><tspan dy="3.2"> (sloped), heat flow down</tspan></text>
<text x="77.80" y="53.20" font-size="8.26" fill="#1a1a1a" stroke="#1a1a1a" filter="url(#wbg)">θ = 0<tspan font-size="5.6" dy="-3.2">o</tspan><tspan dy="3.2"> (horizontal), heat flow up</tspan></text>
<text x="77.80" y="62.40" font-size="8.26" fill="#1a1a1a" stroke="#1a1a1a" filter="url(#wbg)">θ = 0<tspan font-size="5.6" dy="-3.2">o</tspan><tspan dy="3.2"> (horizontal), heat flow down</tspan></text>
<path d="M322.00 20.40H326.80L324.40 24.60Z" fill="none" stroke="#1a1a1a" stroke-width="1"/>
<rect x="322.00" y="29.00" width="4.8" height="4.8" fill="#00ffff"/>
<circle cx="324.40" cy="40.40" r="2.5" fill="#00ff00"/>
<rect x="322.20" y="47.60" width="4.4" height="4.4" fill="none" stroke="#ff2020" stroke-width="1"/>
<circle cx="324.40" cy="58.70" r="2.3" fill="none" stroke="#0000ff" stroke-width="1"/>
<text x="344.70" y="25.40" font-size="8.26" fill="#1a1a1a" stroke="#1a1a1a" filter="url(#wbg)"><tspan font-family="'Liberation Serif', 'Times New Roman', serif">θ</tspan> = 90<tspan font-size="5.6" dy="-3.2">o</tspan><tspan dy="3.2"> (vertical), heat flow horizontal</tspan></text>
<text x="344.70" y="34.40" font-size="8.26" fill="#1a1a1a" stroke="#1a1a1a" filter="url(#wbg)"><tspan font-family="'Liberation Serif', 'Times New Roman', serif">θ</tspan> = 45<tspan font-size="5.6" dy="-3.2">o</tspan><tspan dy="3.2"> (sloped), heat flow up</tspan></text>
<text x="344.70" y="43.40" font-size="8.26" fill="#1a1a1a" stroke="#1a1a1a" filter="url(#wbg)"><tspan font-family="'Liberation Serif', 'Times New Roman', serif">θ</tspan> = 45<tspan font-size="5.6" dy="-3.2">o</tspan><tspan dy="3.2"> (sloped), heat flow down</tspan></text>
<text x="344.70" y="52.80" font-size="8.26" fill="#1a1a1a" stroke="#1a1a1a" filter="url(#wbg)"><tspan font-family="'Liberation Serif', 'Times New Roman', serif">θ</tspan> = 0<tspan font-size="5.6" dy="-3.2">o</tspan><tspan dy="3.2"> (horizontal), heat flow up</tspan></text>
<text x="344.70" y="61.70" font-size="8.26" fill="#1a1a1a" stroke="#1a1a1a" filter="url(#wbg)"><tspan font-family="'Liberation Serif', 'Times New Roman', serif">θ</tspan> = 0<tspan font-size="5.6" dy="-3.2">o</tspan><tspan dy="3.2"> (horizontal), heat flow down</tspan></text>
<path d="M55.20 287.10H60.00L57.60 291.30Z" fill="none" stroke="#1a1a1a" stroke-width="1"/>
<rect x="55.20" y="295.90" width="4.8" height="4.8" fill="#00ffff"/>
<circle cx="57.60" cy="307.50" r="2.5" fill="#00ff00"/>
<rect x="55.40" y="314.80" width="4.4" height="4.4" fill="none" stroke="#ff2020" stroke-width="1"/>
<circle cx="57.60" cy="325.90" r="2.3" fill="none" stroke="#0000ff" stroke-width="1"/>
<text x="77.90" y="292.10" font-size="8.26" fill="#1a1a1a" stroke="#1a1a1a" filter="url(#wbg)">θ = 90<tspan font-size="5.6" dy="-3.2">o</tspan><tspan dy="3.2"> (vertical), heat flow horizontal</tspan></text>
<text x="77.90" y="301.30" font-size="8.26" fill="#1a1a1a" stroke="#1a1a1a" filter="url(#wbg)">θ = 45<tspan font-size="5.6" dy="-3.2">o</tspan><tspan dy="3.2"> (sloped), heat flow up</tspan></text>
<text x="77.90" y="310.50" font-size="8.26" fill="#1a1a1a" stroke="#1a1a1a" filter="url(#wbg)">θ = 45<tspan font-size="5.6" dy="-3.2">o</tspan><tspan dy="3.2"> (sloped), heat flow down</tspan></text>
<text x="77.90" y="320.00" font-size="8.26" fill="#1a1a1a" stroke="#1a1a1a" filter="url(#wbg)">θ = 0<tspan font-size="5.6" dy="-3.2">o</tspan><tspan dy="3.2"> (horizontal), heat flow Up</tspan></text>
<text x="77.90" y="328.90" font-size="8.26" fill="#1a1a1a" stroke="#1a1a1a" filter="url(#wbg)">θ = 0<tspan font-size="5.6" dy="-3.2">o</tspan><tspan dy="3.2"> (horizontal), heat flow down</tspan></text>
<path d="M323.90 288.80H328.70L326.30 293.00Z" fill="none" stroke="#1a1a1a" stroke-width="1"/>
<rect x="323.90" y="297.00" width="4.8" height="4.8" fill="#00ffff"/>
<circle cx="326.30" cy="308.30" r="2.5" fill="#00ff00"/>
<rect x="324.10" y="315.90" width="4.4" height="4.4" fill="none" stroke="#ff2020" stroke-width="1"/>
<circle cx="326.30" cy="327.00" r="2.3" fill="none" stroke="#0000ff" stroke-width="1"/>
<text x="346.50" y="293.80" font-size="8.26" fill="#1a1a1a" stroke="#1a1a1a" filter="url(#wbg)"><tspan font-family="'Liberation Serif', 'Times New Roman', serif">θ</tspan> = 90<tspan font-size="5.6" dy="-3.2">o</tspan><tspan dy="3.2"> (vertical), heat flow horizontal</tspan></text>
<text x="346.50" y="302.40" font-size="8.26" fill="#1a1a1a" stroke="#1a1a1a" filter="url(#wbg)"><tspan font-family="'Liberation Serif', 'Times New Roman', serif">θ</tspan> = 45<tspan font-size="5.6" dy="-3.2">o</tspan><tspan dy="3.2"> (sloped), heat flow up</tspan></text>
<text x="346.50" y="311.30" font-size="8.26" fill="#1a1a1a" stroke="#1a1a1a" filter="url(#wbg)"><tspan font-family="'Liberation Serif', 'Times New Roman', serif">θ</tspan> = 45<tspan font-size="5.6" dy="-3.2">o</tspan><tspan dy="3.2"> (sloped), heat flow down</tspan></text>
<text x="346.50" y="321.10" font-size="8.26" fill="#1a1a1a" stroke="#1a1a1a" filter="url(#wbg)"><tspan font-family="'Liberation Serif', 'Times New Roman', serif">θ</tspan> = 0<tspan font-size="5.6" dy="-3.2">o</tspan><tspan dy="3.2"> (horizontal), heat flow up</tspan></text>
<text x="346.50" y="330.00" font-size="8.26" fill="#1a1a1a" stroke="#1a1a1a" filter="url(#wbg)"><tspan font-family="'Liberation Serif', 'Times New Roman', serif">θ</tspan> = 0<tspan font-size="5.6" dy="-3.2">o</tspan><tspan dy="3.2"> (horizontal), heat flow down</tspan></text>
<rect x="55.5" y="73.6" width="107.8" height="21.6" fill="#fff" stroke="#1a1a1a" stroke-width="1.1"/>
<text x="57.6" y="82.8" font-size="8.26" fill="#1a1a1a" stroke="#1a1a1a">Reflective building assembly</text>
<text x="57.6" y="92.2" font-size="8.26" fill="#1a1a1a" stroke="#1a1a1a">E = 0.03, 0.05, 0.2, 0.5, 0.82</text>
<rect x="325.6" y="74.5" width="108.1" height="21.8" fill="#fff" stroke="#1a1a1a" stroke-width="1.1"/>
<text x="327.8" y="83.7" font-size="8.26" fill="#1a1a1a" stroke="#1a1a1a">Enclosed-airspace only</text>
<text x="327.8" y="92.9" font-size="8.26" fill="#1a1a1a" stroke="#1a1a1a">E = 0.03, 0.05, 0.2, 0.5, 0.82</text>
<rect x="53.2" y="339.3" width="108.4" height="21.8" fill="#fff" stroke="#1a1a1a" stroke-width="1.1"/>
<text x="55" y="348" font-size="8.26" fill="#1a1a1a" stroke="#1a1a1a">Reflective building assembly</text>
<text x="55" y="357.3" font-size="8.26" fill="#1a1a1a" stroke="#1a1a1a">E = 0.03, 0.05, 0.2, 0.5, 0.82</text>
<rect x="324.3" y="339.3" width="108.3" height="21.8" fill="#fff" stroke="#1a1a1a" stroke-width="1.1"/>
<text x="325.9" y="348" font-size="8.26" fill="#1a1a1a" stroke="#1a1a1a">Enclosed-airspace only</text>
<text x="325.9" y="357.3" font-size="8.26" fill="#1a1a1a" stroke="#1a1a1a">E = 0.03, 0.05, 0.2, 0.5, 0.82</text>
<rect x="86.5" y="203.60" width="169.1" height="9.25" fill="#fff"/>
<rect x="86.5" y="213.70" width="168.1" height="9.25" fill="#fff"/>
<text x="86.5" y="211.1" font-size="8.26" fill="#1a1a1a" stroke="#1a1a1a">R<tspan font-size="5.6" dy="2">1a</tspan><tspan dy="-2">: Based on convective boundary conditions</tspan></text>
<text x="86.5" y="221.2" font-size="8.26" fill="#1a1a1a" stroke="#1a1a1a">R<tspan font-size="5.6" dy="2">2a</tspan><tspan dy="-2">: Based on isothermal boundary conditions</tspan></text>
<rect x="350.4" y="205.10" width="169.1" height="9.25" fill="#fff"/>
<rect x="350.4" y="215.30" width="168.1" height="9.25" fill="#fff"/>
<text x="350.4" y="212.6" font-size="8.26" fill="#1a1a1a" stroke="#1a1a1a">R<tspan font-size="5.6" dy="2">1b</tspan><tspan dy="-2">: Based on convective boundary conditions</tspan></text>
<text x="350.4" y="222.8" font-size="8.26" fill="#1a1a1a" stroke="#1a1a1a">R<tspan font-size="5.6" dy="2">2b</tspan><tspan dy="-2">: Based on isothermal boundary conditions</tspan></text>
<rect x="84.9" y="471.90" width="169.1" height="9.25" fill="#fff"/>
<rect x="84.9" y="481.90" width="168.1" height="9.25" fill="#fff"/>
<text x="84.9" y="479.4" font-size="8.26" fill="#1a1a1a" stroke="#1a1a1a">R<tspan font-size="5.6" dy="2">1a</tspan><tspan dy="-2">: Based on convective boundary conditions</tspan></text>
<text x="84.9" y="489.4" font-size="8.26" fill="#1a1a1a" stroke="#1a1a1a">R<tspan font-size="5.6" dy="2">2a</tspan><tspan dy="-2">: Based on isothermal boundary conditions</tspan></text>
<rect x="352.9" y="470.10" width="169.1" height="9.25" fill="#fff"/>
<rect x="352.9" y="480.30" width="168.1" height="9.25" fill="#fff"/>
<text x="352.9" y="477.6" font-size="8.26" fill="#1a1a1a" stroke="#1a1a1a">R<tspan font-size="5.6" dy="2">1b</tspan><tspan dy="-2">: Based on convective boundary conditions</tspan></text>
<text x="352.9" y="487.8" font-size="8.26" fill="#1a1a1a" stroke="#1a1a1a">R<tspan font-size="5.6" dy="2">2b</tspan><tspan dy="-2">: Based on isothermal boundary conditions</tspan></text>
<text x="110.9" y="116" font-size="8.26" fill="#ff2020" stroke="#ff2020" filter="url(#wbg)">+3%</text>
<text x="157.5" y="157" font-size="8.26" fill="#ff2020" stroke="#ff2020" filter="url(#wbg)">−3%</text>
<line x1="128.40" y1="116.70" x2="136.23" y2="125.11" stroke="#ff2020" stroke-width="1.1"/>
<path d="M139.30 128.40L134.62 126.61L137.84 123.61Z" fill="#ff2020"/>
<line x1="156.00" y1="150.00" x2="147.10" y2="142.82" stroke="#ff2020" stroke-width="1.1"/>
<path d="M143.60 140.00L148.48 141.11L145.72 144.54Z" fill="#ff2020"/>
<text x="369.1" y="136.6" font-size="8.26" fill="#ff2020" stroke="#ff2020" filter="url(#wbg)">+3%</text>
<text x="405.5" y="166.6" font-size="8.26" fill="#ff2020" stroke="#ff2020" filter="url(#wbg)">−3%</text>
<line x1="387.30" y1="136.40" x2="391.87" y2="142.75" stroke="#ff2020" stroke-width="1.1"/>
<path d="M394.50 146.40L390.09 144.03L393.66 141.46Z" fill="#ff2020"/>
<line x1="403.60" y1="160.90" x2="400.67" y2="156.46" stroke="#ff2020" stroke-width="1.1"/>
<path d="M398.20 152.70L402.51 155.25L398.84 157.67Z" fill="#ff2020"/>
<text x="111.3" y="383" font-size="8.26" fill="#ff2020" stroke="#ff2020" filter="url(#wbg)">+3%</text>
<text x="157.8" y="422.5" font-size="8.26" fill="#ff2020" stroke="#ff2020" filter="url(#wbg)">−3%</text>
<line x1="128.20" y1="382.70" x2="135.29" y2="391.07" stroke="#ff2020" stroke-width="1.1"/>
<path d="M138.20 394.50L133.61 392.49L136.97 389.64Z" fill="#ff2020"/>
<line x1="156.40" y1="417.60" x2="149.53" y2="410.53" stroke="#ff2020" stroke-width="1.1"/>
<path d="M146.40 407.30L151.11 409.00L147.96 412.06Z" fill="#ff2020"/>
<text x="373.6" y="405.7" font-size="8.26" fill="#ff2020" stroke="#ff2020" filter="url(#wbg)">+3%</text>
<text x="405" y="436.3" font-size="8.26" fill="#ff2020" stroke="#ff2020" filter="url(#wbg)">−3%</text>
<line x1="382.70" y1="404.50" x2="388.35" y2="412.69" stroke="#ff2020" stroke-width="1.1"/>
<path d="M390.90 416.40L386.54 413.94L390.16 411.45Z" fill="#ff2020"/>
<line x1="404.50" y1="432.70" x2="398.66" y2="426.80" stroke="#ff2020" stroke-width="1.1"/>
<path d="M395.50 423.60L400.23 425.25L397.10 428.35Z" fill="#ff2020"/>
<text x="245.9" y="64" font-size="8.26" fill="#1a1a1a" stroke="#1a1a1a" filter="url(#wbg)">(a)</text>
<text x="513.6" y="57.3" font-size="8.26" fill="#1a1a1a" stroke="#1a1a1a" filter="url(#wbg)">(c)</text>
<text x="247.7" y="327.7" font-size="8.26" fill="#1a1a1a" stroke="#1a1a1a" filter="url(#wbg)">(b)</text>
<text x="515" y="323.6" font-size="8.26" fill="#1a1a1a" stroke="#1a1a1a" filter="url(#wbg)">(d)</text>
</svg></body></html>
